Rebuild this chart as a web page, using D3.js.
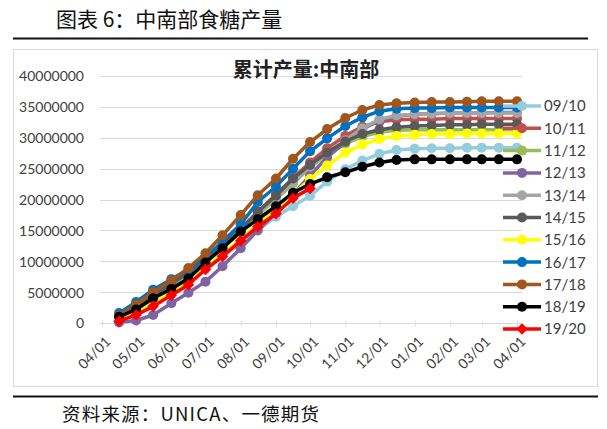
<!DOCTYPE html>
<html><head><meta charset="utf-8">
<script src="https://cdn.jsdelivr.net/npm/d3@7"></script>
<style>
html,body{margin:0;padding:0;background:#fff;}
svg{display:block;}
</style></head>
<body>
<svg id="c" width="607" height="429"></svg>
<script>
// ---- data (cumulative sugar production, million tonnes) ----
const dates = ["04/16","05/01","05/16","06/01","06/16","07/01","07/16","08/01","08/16","09/01","09/16","10/01",
               "10/16","11/01","11/16","12/01","12/16","01/01","01/16","02/01","02/16","03/01","03/16","04/01"];
const seasons = ["09/10","10/11","11/12","12/13","13/14","14/15","15/16","16/17","17/18","18/19","19/20"];
const colors = ["#93cddd","#c0504d","#9bbb59","#8064a2","#a5a5a5","#595959","#ffff00","#0070c0","#a0561c","#000000","#ff0000"];
const s0910 = [0.5,1.5,3.0,4.8,6.6,8.6,10.7,12.9,15.1,17.2,18.9,20.6,22.9,24.9,26.3,27.4,28.0,28.2,28.3,28.3,28.4,28.4,28.4,28.4];
const s1011 = [0.8,2.2,4.0,5.9,7.9,10.2,12.6,15.3,18.0,20.8,23.5,26.0,28.3,30.3,31.8,32.6,32.9,33.0,33.0,33.1,33.1,33.1,33.1,33.1];
const s1112 = [0.9,2.3,4.1,6.0,8.0,10.2,12.5,14.9,17.5,20.0,22.6,25.2,27.3,29.0,30.2,30.9,31.2,31.3,31.3,31.3,31.3,31.3,31.3,31.3];
const s1213 = [0.1,0.4,1.3,3.2,4.9,6.7,9.2,12.1,15.0,17.8,20.8,23.9,26.8,29.3,31.4,32.8,33.5,33.8,33.9,34.0,34.0,34.0,34.1,34.1];
const s1314 = [1.2,2.8,4.6,6.5,8.4,10.5,12.8,15.3,17.8,20.3,22.8,25.3,27.6,29.6,31.5,33.0,33.6,33.8,33.9,34.0,34.0,34.0,34.0,34.0];
const s1415 = [1.1,2.6,4.4,6.3,8.2,10.3,12.6,15.2,18.0,20.6,23.4,25.6,27.6,29.4,30.6,31.3,31.7,31.9,32.0,32.1,32.1,32.2,32.2,32.2];
const s1516 = [0.7,1.8,3.4,5.0,6.9,9.0,11.2,13.6,16.0,18.4,20.8,23.3,25.5,27.6,28.9,29.8,30.3,30.5,30.6,30.6,30.7,30.7,30.7,30.7];
const s1617 = [1.6,3.4,5.4,7.1,8.6,10.7,13.2,16.0,19.6,22.1,25.0,27.8,29.9,31.9,33.3,34.3,34.7,34.8,34.8,34.9,34.9,34.9,34.9,34.9];
const s1718 = [1.2,3.0,5.0,6.9,8.9,11.3,14.2,17.5,20.7,23.4,26.6,29.3,31.4,33.2,34.5,35.3,35.6,35.7,35.8,35.8,35.85,35.9,35.9,35.9];
const s1819 = [1.0,2.2,4.0,5.5,7.2,9.8,12.1,14.8,16.8,18.9,21.1,22.5,23.6,24.4,25.3,26.0,26.4,26.5,26.5,26.5,26.5,26.5,26.5,26.5];
const s1920 = [0.3,1.3,2.7,4.5,6.2,8.7,10.8,13.3,15.6,17.7,20.2,21.8];
const seriesValues = [s0910,s1011,s1112,s1213,s1314,s1415,s1516,s1617,s1718,s1819,s1920];
const yTicks = [0,5000000,10000000,15000000,20000000,25000000,30000000,35000000,40000000];
const UNIT = 1000000;

// ---- layout ----
const svg = d3.select("#c");
const FONT = "Lato, 'Noto Sans', sans-serif";
const CJK = "'Noto Sans CJK SC', sans-serif";

// header
svg.append("text").attr("x",56).attr("y",27).attr("font-family",CJK).attr("font-size",21)
  .attr("fill","#111").text("图表 6：中南部食糖产量");
svg.append("line").attr("x1",13).attr("x2",588).attr("y1",38.5).attr("y2",38.5)
  .attr("stroke","#111").attr("stroke-width",2);
// chart frame
svg.append("rect").attr("x",13.5).attr("y",49.5).attr("width",584).attr("height",337)
  .attr("fill","#fff").attr("stroke","#d9d9d9").attr("stroke-width",1);
// footer
svg.append("line").attr("x1",13).attr("x2",598).attr("y1",396.5).attr("y2",396.5)
  .attr("stroke","#111").attr("stroke-width",2);
svg.append("text").attr("x",62).attr("y",421).attr("font-family",CJK).attr("font-size",18.5)
  .attr("letter-spacing",1.2).attr("fill","#111").text("资料来源：UNICA、一德期货");

// scales
const dateObjs = dates.map((s,i)=>{ const [m,d] = s.split("/").map(Number); return new Date(i>=17 ? 2002 : 2001, m-1, d); });
const x = d3.scaleTime().domain([new Date(2001,3,1), new Date(2002,3,1)]).range([102,517]);
const y = d3.scaleLinear().domain([0,40000000]).range([323,76]);

// gridlines
svg.append("g").selectAll("line").data(yTicks.slice(1)).join("line")
  .attr("x1",100).attr("x2",522).attr("y1",d=>Math.round(y(d))+0.5).attr("y2",d=>Math.round(y(d))+0.5)
  .attr("stroke","#d9d9d9").attr("stroke-width",1);

// y axis
const yAxis = d3.axisLeft(y).tickValues(yTicks).tickSize(0).tickPadding(0).tickFormat(d3.format("d"));
const gy = svg.append("g").attr("transform","translate(84,0)").call(yAxis);
gy.select(".domain").remove();
gy.selectAll("text").attr("font-family",FONT).attr("font-size",14).attr("fill","#404040").attr("dy","0.35em");

// x axis
const xTicks = d3.timeMonth.range(new Date(2001,3,1), new Date(2002,3,2));
const xAxis = d3.axisBottom(x).tickValues(xTicks).tickSize(4).tickFormat(d3.timeFormat("%m/%d"));
const gx = svg.append("g").attr("transform","translate(0,323.5)").call(xAxis);
gx.select(".domain").attr("stroke","#d9d9d9").attr("d","M100,0H522");
gx.selectAll(".tick line").attr("stroke","#d9d9d9").attr("y1",-3).attr("y2",3);
gx.selectAll("text").attr("font-family",FONT).attr("font-size",14).attr("fill","#404040")
  .attr("text-anchor","end").attr("dy","0").attr("transform","translate(4,14) rotate(-45)");

// chart title
svg.append("text").attr("x",306).attr("y",77).attr("text-anchor","middle")
  .attr("font-family",CJK).attr("font-weight","bold").attr("font-size",20).attr("fill","#222")
  .text("累计产量:中南部");

// series
const line = d3.line().x((d,i)=>x(dateObjs[i])).y(d=>y(d*UNIT));
const gs = svg.append("g");
seriesValues.forEach((vals,si)=>{
  const g = gs.append("g");
  g.append("path").datum(vals).attr("d",line).attr("fill","none")
    .attr("stroke",colors[si]).attr("stroke-width",3.5).attr("stroke-linejoin","round");
  if (si === 10) {
    g.selectAll("path.m").data(vals).join("path").attr("class","m")
      .attr("d",d3.symbol(d3.symbolDiamond2,85))
      .attr("transform",(d,i)=>`translate(${x(dateObjs[i])},${y(d*UNIT)})`)
      .attr("fill",colors[si]);
  } else {
    g.selectAll("circle").data(vals).join("circle")
      .attr("cx",(d,i)=>x(dateObjs[i])).attr("cy",d=>y(d*UNIT)).attr("r",5)
      .attr("fill",colors[si]);
  }
});

// legend
const lg = svg.append("g");
seasons.forEach((s,i)=>{
  const yy = 106 + i*22.3;
  lg.append("line").attr("x1",503).attr("x2",541).attr("y1",yy).attr("y2",yy)
    .attr("stroke",colors[i]).attr("stroke-width",3.5);
  if (i === 10) {
    lg.append("path").attr("d",d3.symbol(d3.symbolDiamond2,85)).attr("transform",`translate(522,${yy})`).attr("fill",colors[i]);
  } else {
    lg.append("circle").attr("cx",522).attr("cy",yy).attr("r",5).attr("fill",colors[i]);
  }
  lg.append("text").attr("x",544).attr("y",yy).attr("dy","0.36em").attr("font-family",FONT)
    .attr("font-size",15).attr("fill","#404040").text(s);
});
</script>
</body></html>
